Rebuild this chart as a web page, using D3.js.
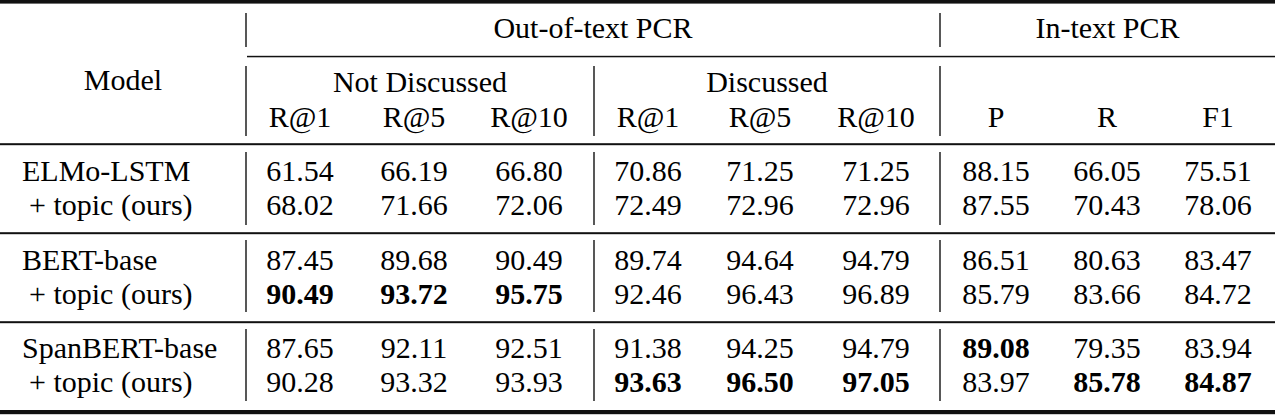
<!DOCTYPE html>
<html>
<head>
<meta charset="utf-8">
<script src="https://cdn.jsdelivr.net/npm/d3@7"></script>
</head>
<body style="margin:0">
<script>
// ---- data ----
const groupHeaders = ["Out-of-text PCR", "In-text PCR"];
const subHeaders = ["Not Discussed", "Discussed"];
const metricLabels = ["R@1", "R@5", "R@10", "R@1", "R@5", "R@10", "P", "R", "F1"];
const models = ["ELMo-LSTM", "+ topic (ours)", "BERT-base", "+ topic (ours)", "SpanBERT-base", "+ topic (ours)"];
const values = [
  ["61.54", "66.19", "66.80", "70.86", "71.25", "71.25", "88.15", "66.05", "75.51"],
  ["68.02", "71.66", "72.06", "72.49", "72.96", "72.96", "87.55", "70.43", "78.06"],
  ["87.45", "89.68", "90.49", "89.74", "94.64", "94.79", "86.51", "80.63", "83.47"],
  ["90.49", "93.72", "95.75", "92.46", "96.43", "96.89", "85.79", "83.66", "84.72"],
  ["87.65", "92.11", "92.51", "91.38", "94.25", "94.79", "89.08", "79.35", "83.94"],
  ["90.28", "93.32", "93.93", "93.63", "96.50", "97.05", "83.97", "85.78", "84.87"]
];
const boldCells = [
  [3, 0], [3, 1], [3, 2],
  [4, 6],
  [5, 3], [5, 4], [5, 5], [5, 7], [5, 8]
];

// ---- layout ----
const W = 1280, H = 415, FS = 30;
const FAMILY = "Tinos, Liberation Serif, Times New Roman, Nimbus Roman, FreeSerif, serif";
const svg = d3.select("body").append("svg").attr("width", W).attr("height", H)
  .style("display", "block").style("font-family", FAMILY);

const colX = d3.scaleOrdinal().domain(d3.range(9)).range([300, 414, 529, 648, 760, 876, 996, 1107, 1218]);
const rowY = d3.scaleOrdinal().domain(d3.range(6)).range([181, 215, 270, 304, 358, 392]);
const sep = [246, 594, 940];
const right = 1275;

const isBold = (r, c) => boldCells.some(b => b[0] === r && b[1] === c);

// horizontal rules
const hrules = [
  {x0: 0, x1: right, y: 0, h: 3.6},
  {x0: 247, x1: right, y: 55.8, h: 1.5},
  {x0: 0, x1: right, y: 143.2, h: 2},
  {x0: 0, x1: right, y: 232.2, h: 2},
  {x0: 0, x1: right, y: 321.2, h: 2},
  {x0: 0, x1: right, y: 410, h: 4.2}
];
svg.selectAll("rect.rule").data(hrules).join("rect").attr("class", "rule")
  .attr("x", d => d.x0).attr("y", d => d.y).attr("width", d => d.x1 - d.x0).attr("height", d => d.h)
  .attr("fill", "#111");

// vertical rules
const vsegs = [
  {x: sep[0], y0: 13, y1: 47}, {x: sep[2], y0: 13, y1: 47},
  {x: sep[0], y0: 66, y1: 136}, {x: sep[1], y0: 66, y1: 136}, {x: sep[2], y0: 66, y1: 136}
];
[[152, 225], [240, 312], [329, 401]].forEach(([a, b]) => sep.forEach(x => vsegs.push({x: x, y0: a, y1: b})));
svg.selectAll("line.v").data(vsegs).join("line").attr("class", "v")
  .attr("x1", d => d.x).attr("x2", d => d.x).attr("y1", d => d.y0).attr("y2", d => d.y1)
  .attr("stroke", "#111").attr("stroke-width", 1.4);

// text helper
const txt = (x, y, s, anchor, bold) => svg.append("text").attr("x", x).attr("y", y)
  .attr("font-family", FAMILY).style("font-family", FAMILY).style("font-size", FS + "px")
  .style("font-weight", bold ? 700 : 400)
  .attr("text-anchor", anchor || "middle").text(s);

txt(123, 90, "Model");
txt((sep[0] + sep[2]) / 2, 38, groupHeaders[0]);
txt((sep[2] + right) / 2, 38, groupHeaders[1]);
txt((sep[0] + sep[1]) / 2, 92, subHeaders[0]);
txt((sep[1] + sep[2]) / 2, 92, subHeaders[1]);
metricLabels.forEach((m, i) => txt(colX(i), 127, m));

// body
models.forEach((m, r) => {
  txt(r % 2 ? 29 : 22, rowY(r), m, "start");
  values[r].forEach((v, c) => txt(colX(c), rowY(r), v, "middle", isBold(r, c)));
});
</script>
</body>
</html>
